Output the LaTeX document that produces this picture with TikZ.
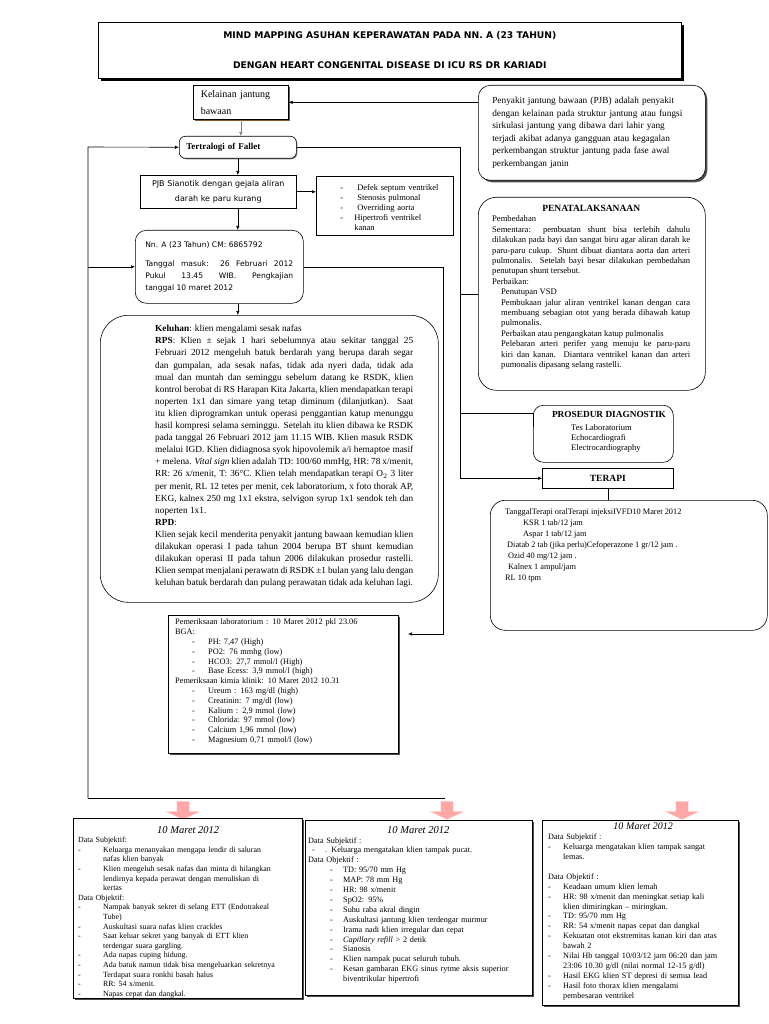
\documentclass[tikz,border=0pt]{standalone}
\usepackage{fontspec}
\setmainfont{Liberation Serif}
\newfontfamily\comic{DejaVu Sans}
\usepackage{tikz}
\usetikzlibrary{positioning,arrows.meta,shadows,shapes.arrows,calc}
% dash item: dash offset, text offset, text
\newcommand{\dl}[3]{\par\noindent\hangindent=#2\makebox[#2][l]{\hspace*{#1}-}#3\par}
\hyphenpenalty=10000
\tolerance=4000
\emergencystretch=8pt

\begin{document}
\begin{tikzpicture}[x=1pt, y=-1pt,
  box/.style={draw, anchor=north west, inner sep=0pt, line width=0.6pt},
  txt/.style={anchor=north west, inner sep=0pt, align=justify},
  arr/.style={-{Latex[length=4pt,width=3.5pt]}, line width=0.6pt},
  ln/.style={line width=0.6pt},
  shd/.style={drop shadow={shadow xshift=2pt, shadow yshift=-2pt, fill=black!70, opacity=1}},
  pk/.style={single arrow, rotate=-90, draw=red!15, shading=axis, left color=red!35,
             middle color=white, right color=red!35, minimum height=18pt, inner xsep=0pt,
             inner ysep=6pt, single arrow head extend=11pt, single arrow tip angle=130}
]
\useasboundingbox[fill=white] (0,0) rectangle (768,1024);

% title
\node[box, drop shadow={shadow xshift=3pt, shadow yshift=-3pt, fill=black, opacity=1}, fill=white,
      minimum width=583pt, minimum height=56pt, align=center,
      font=\comic\bfseries\fontsize{9.2}{30}\selectfont] (title) at (98,22)
  {MIND MAPPING ASUHAN KEPERAWATAN PADA NN. A (23 TAHUN)\\DENGAN HEART CONGENITAL DISEASE DI ICU RS DR KARIADI};

% top of the map
\node[box, fill=white, drop shadow={shadow xshift=2pt, shadow yshift=-2pt, fill=brown!70!black, opacity=1},
      minimum width=95pt, minimum height=34pt, text width=80pt, inner xsep=7.5pt, align=left,
      font=\fontsize{10}{17}\selectfont] (kel) at (193,85) {Kelainan jantung\\bawaan};
\node[box, fill=white, rounded corners=12pt, shd, minimum width=227pt, minimum height=95pt,
      text width=199pt, inner xsep=14pt, align=left, font=\fontsize{9.3}{12.6}\selectfont] (def) at (478,85)
  {Penyakit jantung bawaan (PJB) adalah penyakit dengan kelainan pada struktur jantung atau fungsi sirkulasi jantung yang dibawa dari lahir yang terjadi akibat adanya gangguan atau kegagalan perkembangan struktur jantung pada fase awal perkembangan janin};
\node[box, fill=white, rounded corners=6pt, drop shadow={shadow xshift=1pt, shadow yshift=-1pt, fill=black!50, opacity=1},
      minimum width=117pt, minimum height=22pt, text width=103pt, inner xsep=7pt, align=left,
      font=\bfseries\fontsize{9}{11}\selectfont] (tof) at (179,136) {Tertralogi of Fallet};
\node[box, minimum width=156pt, minimum height=33pt, text width=150pt, inner xsep=3pt, align=center,
      font=\comic\fontsize{8}{15}\selectfont] (pjb) at (140,175)
  {PJB Sianotik dengan gejala aliran\\darah ke paru kurang};
\node[box, minimum width=137pt, minimum height=59pt, text width=127pt, inner xsep=5pt, align=left,
      font=\fontsize{8.5}{10}\selectfont] (ciri) at (316,176)
  {\dl{19pt}{36pt}{Defek septum ventrikel}\dl{19pt}{36pt}{Stenosis pulmonal}\dl{19pt}{36pt}{Overriding aorta}\dl{19pt}{33pt}{Hipertrofi ventrikel\newline kanan}};
\node[box, rounded corners=11pt, minimum width=168pt, minimum height=73pt, text width=148pt, inner xsep=10pt,
      align=justify, font=\comic\fontsize{7.6}{12}\selectfont] (nna) at (135,230)
  {Nn. A (23 Tahun) CM: 6865792\par\vspace{7pt}Tanggal masuk: 26 Februari 2012\linebreak Pukul 13.45 WIB. Pengkajian\linebreak tanggal 10 maret 2012};

% riwayat
\node[box, rounded corners=28pt, minimum width=338pt, minimum height=287pt] (big) at (100,315) {};
\node[txt, text width=258pt, font=\fontsize{9.3}{12.1}\selectfont] (bigtxt) at (155,325)
  {\textbf{Keluhan}: klien mengalami sesak nafas\par
   \textbf{RPS}: Klien ± sejak 1 hari sebelumnya atau sekitar tanggal 25 Februari 2012 mengeluh batuk berdarah yang berupa darah segar dan gumpalan, ada sesak nafas, tidak ada nyeri dada, tidak ada mual dan muntah dan seminggu sebelum datang ke RSDK, klien kontrol berobat di RS Harapan Kita Jakarta, klien mendapatkan terapi noperten 1x1 dan simare yang tetap diminum (dilanjutkan). Saat itu klien diprogramkan untuk operasi penggantian katup menunggu hasil kompresi selama seminggu. Setelah itu klien dibawa ke RSDK pada tanggal 26 Februari 2012 jam 11.15 WIB. Klien masuk RSDK melalui IGD. Klien didiagnosa syok hipovolemik a/i hemaptoe masif + melena. \textit{Vital sign} klien adalah TD: 100/60 mmHg, HR: 78 x/menit, RR: 26 x/menit, T: 36°C. Klien telah mendapatkan terapi O$_2$ 3 liter per menit, RL 12 tetes per menit, cek laboratorium, x foto thorak AP, EKG, kalnex 250 mg 1x1 ekstra, selvigon syrup 1x1 sendok teh dan noperten 1x1.\par
   \textbf{RPD}:\par
   Klien sejak kecil menderita penyakit jantung bawaan kemudian klien dilakukan operasi I pada tahun 2004 berupa BT shunt kemudian dilakukan operasi II pada tahun 2006 dilakukan prosedur rastelli. Klien sempat menjalani perawatn di RSDK ±1 bulan yang lalu dengan keluhan batuk berdarah dan pulang perawatan tidak ada keluhan lagi.};

% right column
\node[box, rounded corners=18pt, minimum width=227pt, minimum height=193pt] (pen) at (478,197) {};
\node[txt, text width=198pt, font=\fontsize{8.6}{10.4}\selectfont] (pentxt) at (492,205)
  {{\centering\bfseries\fontsize{9.5}{10.4}\selectfont PENATALAKSANAAN\par}
   Pembedahan\par
   Sementara: pembuatan shunt bisa terlebih dahulu dilakukan pada bayi dan sangat biru agar aliran darah ke paru-paru cukup. Shunt dibuat diantara aorta dan arteri pulmonalis. Setelah bayi besar dilakukan pembedahan penutupan shunt tersebut.\par
   Perbaikan:\par
   {\leftskip=9pt Penutupan VSD\par
   Pembukaan jalur aliran ventrikel kanan dengan cara membuang sebagian otot yang berada dibawah katup pulmonalis.\par
   Perbaikan atau pengangkatan katup pulmonalis\par
   Pelebaran arteri perifer yang menuju ke paru-paru kiri dan kanan. Diantara ventrikel kanan dan arteri pumonalis dipasang selang rastelli.\par}};
\node[box, rounded corners=10pt, minimum width=140pt, minimum height=57pt] (pros) at (533,405) {};
\node[anchor=north, inner sep=0pt, font=\bfseries\fontsize{9.3}{11}\selectfont] (prost) at (609,411) {PROSEDUR DIAGNOSTIK};
\node[txt, align=left, font=\fontsize{8.5}{10.3}\selectfont] (prosl) at (571,424)
  {Tes Laboratorium\\Echocardiografi\\Electrocardiography};
\node[box, minimum width=131pt, minimum height=20pt, font=\bfseries\fontsize{9.5}{11}\selectfont] (terapi) at (542,468) {TERAPI};
\node[box, rounded corners=15pt, minimum width=277pt, minimum height=130pt] (tdet) at (490,500) {};
\node[txt, align=left, font=\fontsize{8.3}{11}\selectfont] (tdettxt) at (505,509)
  {TanggalTerapi oralTerapi injeksiIVFD10 Maret 2012\\
   \hspace*{18pt}KSR 1 tab/12 jam\\
   \hspace*{18pt}Aspar 1 tab/12 jam\\
   \hspace*{2pt}Diatab 2 tab (jika perlu)Cefoperazone 1 gr/12 jam .\\
   \hspace*{3pt}Ozid 40 mg/12 jam .\\
   \hspace*{3pt}Kalnex 1 ampul/jam\\
   RL 10 tpm};

% laboratorium
\node[box, fill=white, shd, minimum width=230pt, minimum height=138pt] (lab) at (168,615) {};
\node[txt, align=left, text width=222pt, font=\fontsize{8.3}{9.8}\selectfont] (labtxt) at (175,619)
  {Pemeriksaan laboratorium : 10 Maret 2012 pkl 23.06\par
   BGA:
   \dl{17pt}{33pt}{PH: 7,47 (High)}
   \dl{17pt}{33pt}{PO2: 76 mmhg (low)}
   \dl{17pt}{33pt}{HCO3: 27,7 mmol/l (High)}
   \dl{17pt}{33pt}{Base Ecess: 3,9 mmol/l (high)}
   Pemeriksaan kimia klinik: 10 Maret 2012 10.31
   \dl{17pt}{33pt}{Ureum : 163 mg/dl (high)}
   \dl{17pt}{33pt}{Creatinin: 7 mg/dl (low)}
   \dl{17pt}{33pt}{Kalium : 2,9 mmol (low)}
   \dl{17pt}{33pt}{Chlorida: 97 mmol (low)}
   \dl{17pt}{33pt}{Calcium 1,96 mmol (low)}
   \dl{17pt}{33pt}{Magnesium 0,71 mmol/l (low)}};

% connectors
\coordinate (lt) at (88,147);
\coordinate (lb) at (88,798);
\coordinate (rb) at (445,798);
\coordinate (rv) at (460,0);
\coordinate (lv) at (443,0);
\coordinate (pk) at (533,413);
\coordinate (labin) at (408,634);
\draw[arr] (def.west |- kel.east) -- (kel.east);
\draw[arr, gray] (kel.south) -- (kel.south |- tof.north);
\draw[arr] (lb) -- (lt) -- (tof.west);
\draw[arr] (lb |- nna.west) -- (nna.west);
\draw[arr] (tof.south) -- (tof.south |- pjb.north);
\draw[arr] (pjb.east) -- (pjb.east -| ciri.west);
\draw[arr] (pjb.south -| tof.south) -- (tof.south |- nna.north);
\draw[arr] (nna.south -| tof.south) -- (tof.south |- big.north);
\draw[arr] (nna.east) -| (lv |- labin) -- (labin);
\draw[arr] (tof.east) -| (rv |- terapi.west) -- (terapi.west);
\draw[ln] (rv |- pen.west) -- (pen.west);
\draw[ln] (rv |- pk) -- (pk) -- ++(0,14);
\draw[ln] (terapi.south) -- (terapi.south |- tdet.north);
\draw[ln] (lb) -- (rb);

% pengkajian 10 maret
\node[pk] (pa1) at (183,809) {};
\node[pk] (pa2) at (447,809) {};
\node[pk] (pa3) at (682,809) {};

\node[box, fill=white, shd, minimum width=229pt, minimum height=180pt] (ds1) at (73,818) {};
\node[txt, align=left, text width=220pt, font=\fontsize{7.9}{9.6}\selectfont] (ds1txt) at (78,826)
  {{\centering\itshape\fontsize{10.5}{11.5}\selectfont 10 Maret 2012\par}
   Data Subjektif:
   \dl{0pt}{25pt}{Keluarga menanyakan mengapa lendir di saluran\newline nafas klien banyak}
   \dl{0pt}{25pt}{Klien mengeluh sesak nafas dan minta di hilangkan\newline lendirnya kepada perawat dengan menuliskan di\newline kertas}
   Data Objektif:
   \dl{0pt}{25pt}{Nampak banyak sekret di selang ETT (Endotrakeal\newline Tube)}
   \dl{0pt}{25pt}{Auskultasi suara nafas klien crackles}
   \dl{0pt}{25pt}{Saat keluar sekret yang banyak di ETT klien\newline terdengar suara gargling.}
   \dl{0pt}{25pt}{Ada napas cuping hidung.}
   \dl{0pt}{25pt}{Ada batuk namun tidak bisa mengeluarkan sekretnya}
   \dl{0pt}{25pt}{Terdapat suara ronkhi basah halus}
   \dl{0pt}{25pt}{RR: 54 x/menit.}
   \dl{0pt}{25pt}{Napas cepat dan dangkal.}};

\node[box, fill=white, shd, minimum width=227pt, minimum height=175pt] (ds2) at (305,820) {};
\node[txt, align=left, text width=220pt, font=\fontsize{8.2}{9.9}\selectfont] (ds2txt) at (308,826)
  {{\centering\itshape\fontsize{10.5}{11.5}\selectfont 10 Maret 2012\par}
   Data Subjektif :
   \dl{4pt}{17pt}{. Keluarga mengatakan klien tampak pucat.}
   Data Objektif :
   \dl{22pt}{35pt}{TD: 95/70 mm Hg}
   \dl{22pt}{35pt}{MAP: 78 mm Hg}
   \dl{22pt}{35pt}{HR: 98 x/menit}
   \dl{22pt}{35pt}{SpO2: 95\%}
   \dl{22pt}{35pt}{Suhu raba akral dingin}
   \dl{22pt}{35pt}{Auskultasi jantung klien terdengar murmur}
   \dl{22pt}{35pt}{Irama nadi klien irregular dan cepat}
   \dl{22pt}{35pt}{\textit{Capillary refill} > 2 detik}
   \dl{22pt}{35pt}{Sianosis}
   \dl{22pt}{35pt}{Klien nampak pucat seluruh tubuh.}
   \dl{22pt}{35pt}{Kesan gambaran EKG sinus rytme aksis superior\newline biventrikular hipertrofi}};

\node[box, fill=white, shd, minimum width=196pt, minimum height=185pt] (ds3) at (542,820) {};
\node[txt, align=left, text width=190pt, font=\fontsize{8.2}{9.9}\selectfont] (ds3txt) at (548,823)
  {{\centering\itshape\fontsize{10}{11}\selectfont 10 Maret 2012\par}
   Data Subjektif :
   \dl{0pt}{15pt}{Keluarga mengatakan klien tampak sangat\newline lemas.}
   \vspace{9.9pt}Data Objektif :
   \dl{0pt}{15pt}{Keadaan umum klien lemah}
   \dl{0pt}{15pt}{HR: 98 x/menit dan meningkat setiap kali\newline klien dimiringkan – miringkan.}
   \dl{0pt}{15pt}{TD: 95/70 mm Hg}
   \dl{0pt}{15pt}{RR: 54 x/menit napas cepat dan dangkal}
   \dl{0pt}{15pt}{Kekuatan otot ekstremitas kanan kiri dan atas\newline bawah 2}
   \dl{0pt}{15pt}{Nilai Hb tanggal 10/03/12 jam 06:20 dan jam\newline 23:06 10.30 g/dl (nilai normal 12-15 g/dl)}
   \dl{0pt}{15pt}{Hasil EKG klien ST depresi di semua lead}
   \dl{0pt}{15pt}{Hasil foto thorax klien mengalami\newline pembesaran ventrikel}};
\end{tikzpicture}
\end{document}
